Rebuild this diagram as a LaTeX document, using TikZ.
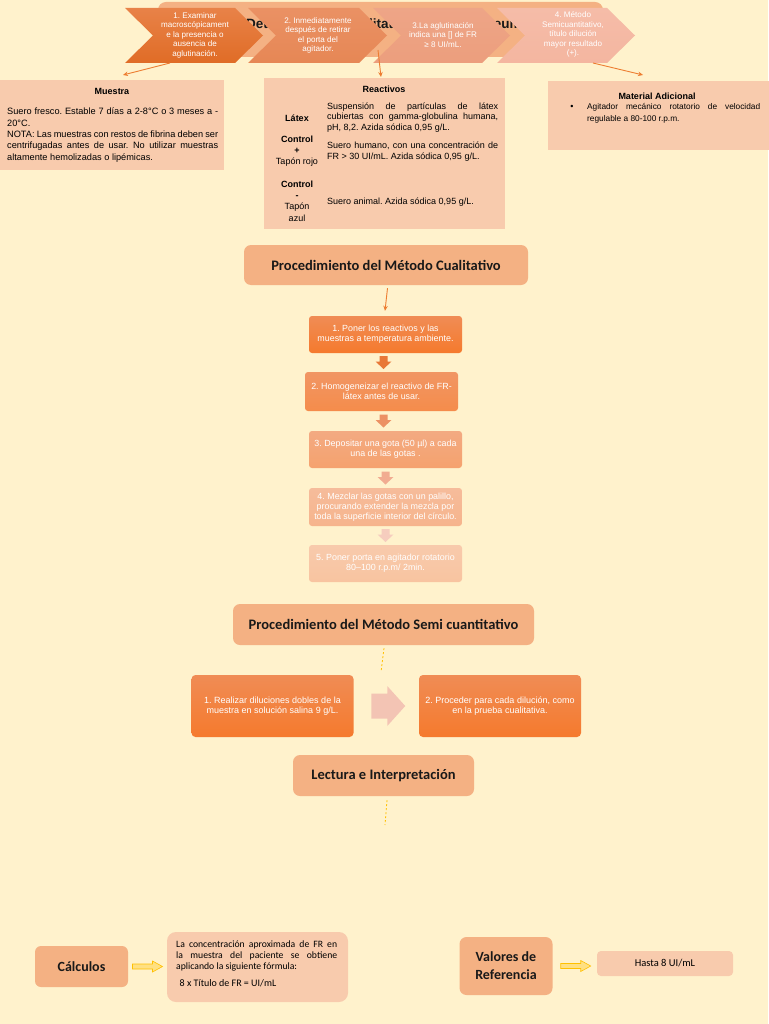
\documentclass[tikz,border=0pt]{standalone}
\usepackage{fontspec}
\setmainfont{Liberation Sans}
\newfontfamily\calib{Carlito}
\usetikzlibrary{arrows.meta,calc}
\definecolor{bgc}{RGB}{255,242,204}
\definecolor{headc}{RGB}{244,177,131}
\definecolor{lightc}{RGB}{248,203,173}
\definecolor{orc}{RGB}{237,125,49}
\definecolor{yelc}{RGB}{255,192,0}
\definecolor{yelf}{RGB}{255,224,130}
\definecolor{darkt}{RGB}{25,25,25}
\definecolor{ch1t}{RGB}{232,130,72}\definecolor{ch1b}{RGB}{224,108,38}
\definecolor{ch2t}{RGB}{234,145,100}\definecolor{ch2b}{RGB}{230,135,85}
\definecolor{ch3t}{RGB}{238,165,135}\definecolor{ch3b}{RGB}{236,158,125}
\definecolor{ch4t}{RGB}{245,188,168}\definecolor{ch4b}{RGB}{244,182,160}
\definecolor{s1t}{RGB}{240,140,85}\definecolor{s1b}{RGB}{245,122,45}
\definecolor{s2t}{RGB}{241,150,100}\definecolor{s2b}{RGB}{245,140,75}
\definecolor{s3t}{RGB}{243,170,130}\definecolor{s3b}{RGB}{245,162,110}
\definecolor{s4t}{RGB}{246,188,155}\definecolor{s4b}{RGB}{246,180,140}
\definecolor{s5t}{RGB}{248,202,172}\definecolor{s5b}{RGB}{248,196,160}
\definecolor{a1c}{RGB}{232,120,55}
\definecolor{a2c}{RGB}{236,145,100}
\definecolor{a3c}{RGB}{241,172,145}
\definecolor{a4c}{RGB}{246,205,190}
\definecolor{pinkc}{RGB}{243,196,180}
\newcommand\dblock[3]{\fill[#3] ($(#1.south)!0.5!(#2.north)$) +(-4,-6.5) -- +(4,-6.5) -- +(4,-1) -- +(8,-1) -- +(0,6.5) -- +(-8,-1) -- +(-4,-1) -- cycle;}
\begin{document}
\frenchspacing
\begin{tikzpicture}[x=1pt,y=-1pt,
  body/.style={font=\fontsize{9}{10.5}\selectfont, inner sep=0pt, text=black},
  bodyb/.style={body, font=\fontsize{9}{10.5}\selectfont\bfseries},
  chevtext/.style={font=\fontsize{8.1}{9.5}\selectfont, text=white, align=center, inner sep=0pt},
  lightbox/.style={fill=lightc, inner sep=0pt},
  headbox/.style={fill=headc, rounded corners=7pt, inner sep=0pt, text=darkt,
    font=\calib\fontsize{14.5}{17}\selectfont\bfseries},
  stepbox/.style={rounded corners=3pt, inner sep=0pt, text=white, align=center,
    font=\fontsize{8.9}{9.8}\selectfont, minimum width=153pt, minimum height=37pt},
  semibox/.style={rounded corners=4pt, inner sep=0pt, text=white, align=center,
    font=\fontsize{9}{10}\selectfont, minimum width=162pt, minimum height=62pt,
    top color=s1t, bottom color=s1b},
  conn/.style={draw=orc, line width=0.9pt, -{Stealth[length=5pt,width=4.5pt]}},
  dotc/.style={draw=yelc, line width=0.8pt, dash pattern=on 2pt off 2pt},
  yarrow/.style={fill=yelf, draw=yelc, line width=0.6pt},
]
\fill[bgc] (0,0) rectangle (768,1024);
\useasboundingbox (0,0) rectangle (768,1024);

% ---------- title banner behind the chevrons
\node[fill=headc, rounded corners=8pt, minimum width=445pt, minimum height=55pt, inner sep=0pt] (titlebox) at (380.5,29.5) {};
\node[anchor=base west, inner sep=0pt, font=\fontsize{13.5}{16}\selectfont\bfseries, text=darkt] (title) at (246,29) {Determinación Cualitativa del Factor Reumatoide};

% ---------- chevrons
\path[top color=ch1t, bottom color=ch1b] (125,8) -- (235,8) -- (263,35.5) -- (235,63) -- (125,63) -- (153,35.5) -- cycle;
\path[top color=ch2t, bottom color=ch2b] (248,8) -- (359,8) -- (387,35.5) -- (359,63) -- (248,63) -- (276,35.5) -- cycle;
\path[top color=ch3t, bottom color=ch3b] (373,8) -- (482,8) -- (510,35.5) -- (482,63) -- (373,63) -- (401,35.5) -- cycle;
\path[top color=ch4t, bottom color=ch4b] (497,8) -- (607,8) -- (635,35.5) -- (607,63) -- (497,63) -- (525,35.5) -- cycle;
\node[chevtext] (c1) at (195,35) {1. Examinar\\macroscópicament\\e la presencia o\\ausencia de\\aglutinación.};
\node[chevtext] (c2) at (318,35.5) {2. Inmediatamente\\después de retirar\\el porta del\\agitador.};
\node[chevtext] (c3) at (443,35) {3.La aglutinación\\indica una [] de FR\\≥ 8 UI/mL.};
\node[chevtext] (c4) at (573,34.5) {4. Método\\Semicuantitativo,\\título dilución\\mayor resultado\\(+).};

% ---------- Muestra
\node[lightbox, minimum width=224pt, minimum height=90pt] (muestra) at (112,125) {};
\node[bodyb] (mtit) at (112,91.5) {Muestra};
\node[body, align=left, anchor=west, font=\fontsize{9.2}{11.4}\selectfont] (mtxt) at (7,135)
 {\makebox[211pt][s]{Suero fresco. Estable 7 días a 2-8°C o 3 meses a -}\\
  20°C.\\
  \makebox[211pt][s]{NOTA: Las muestras con restos de fibrina deben ser}\\
  \makebox[211pt][s]{centrifugadas antes de usar. No utilizar muestras}\\
  altamente hemolizadas o lipémicas.};

% ---------- Reactivos
\node[lightbox, minimum width=241pt, minimum height=151pt] (reac) at (384,153.5) {};
\node[bodyb] (rtit) at (384,89) {Reactivos};
\node[bodyb] (rl1) at (297,118) {Látex};
\node[body, align=center, font=\fontsize{9}{11}\selectfont] (rl2) at (297,151) {\textbf{Control}\\\textbf{+}\\Tapón rojo};
\node[body, align=center, font=\fontsize{9}{11.2}\selectfont] (rl3) at (297,201) {\textbf{Control}\\\textbf{-}\\Tapón\\azul};
\node[body, align=left, anchor=west, font=\fontsize{9}{10.6}\selectfont] (rr1) at (327,117.5)
 {\makebox[171pt][s]{Suspensión de partículas de látex}\\
  \makebox[171pt][s]{cubiertas con gamma-globulina humana,}\\
  pH, 8,2. Azida sódica 0,95 g/L.};
\node[body, align=left, anchor=west, font=\fontsize{9}{10.8}\selectfont] (rr2) at (327,151.5)
 {\makebox[171pt][s]{Suero humano, con una concentración de}\\
  FR > 30 UI/mL. Azida sódica 0,95 g/L.};
\node[body, anchor=west] (rr3) at (327,202) {Suero animal. Azida sódica 0,95 g/L.};

% ---------- Material adicional
\node[lightbox, minimum width=221pt, minimum height=69pt] (mat) at (658.5,115.5) {};
\node[bodyb] (mattit) at (657,96) {Material Adicional};
\node[body] (bul) at (572,107.5) {•};
\node[body, align=left, anchor=west, font=\fontsize{8.3}{12}\selectfont] (mattxt) at (587,113.5)
 {\makebox[173pt][s]{Agitador mecánico rotatorio de velocidad}\\
  regulable a 80-100 r.p.m.};

% ---------- connectors from chevrons
\coordinate (c1b) at (170,63);
\coordinate (m1) at (123,75);
\coordinate (c2b) at (378,50);
\coordinate (r1) at (381,77);
\coordinate (c4b) at (593,63);
\coordinate (a1) at (643,75);
\draw[conn] (c1b) -- (m1);
\draw[conn] (c2b) -- (r1);
\draw[conn] (c4b) -- (a1);

% ---------- Procedimiento cualitativo
\node[headbox, minimum width=284pt, minimum height=40pt] (proc) at (386,265) {Procedimiento del Método Cualitativo};
\node[stepbox, top color=s1t, bottom color=s1b] (s1) at (385.5,334.5) {1. Poner los reactivos y las\\muestras a temperatura ambiente.};
\node[stepbox, top color=s2t, bottom color=s2b, minimum width=153pt, minimum height=39pt] (s2) at (381.5,391.5) {2. Homogeneizar el reactivo de FR-\\látex antes de usar.};
\node[stepbox, top color=s3t, bottom color=s3b] (s3) at (385.5,449.5) {3. Depositar una gota (50 µl) a cada\\una de las gotas .};
\node[stepbox, top color=s4t, bottom color=s4b, minimum height=38pt] (s4) at (385.5,507) {4. Mezclar las gotas con un palillo,\\procurando extender la mezcla por\\toda la superficie interior del círculo.};
\node[stepbox, top color=s5t, bottom color=s5b] (s5) at (385.5,563.5) {5. Poner porta en agitador rotatorio\\80–100 r.p.m/ 2min.};
\draw[conn] ($(proc.south)+(1.5,3)$) -- ($(s1.north)+(-0.5,-5)$);
\dblock{s1}{s2}{a1c}
\dblock{s2}{s3}{a2c}
\dblock{s3}{s4}{a3c}
\dblock{s4}{s5}{a4c}

% ---------- Procedimiento semicuantitativo
\node[headbox, minimum width=301pt, minimum height=41pt] (semi) at (383.5,624.5) {Procedimiento del Método Semi cuantitativo};
\coordinate (semid) at (381,672);
\draw[dotc] ($(semi.south)+(0.5,3)$) -- (semid);
\node[semibox] (b1) at (272.5,706) {1. Realizar diluciones dobles de la\\muestra en solución salina 9 g/L.};
\node[semibox] (b2) at (500,706) {2. Proceder para cada dilución, como\\en la prueba cualitativa.};
\fill[pinkc] ($(b1.east)!0.5!(b2.west)$) +(-15,-12.5) -- +(1,-12.5) -- +(1,-20) -- +(19,0) -- +(1,20) -- +(1,12.5) -- +(-15,12.5) -- cycle;

% ---------- Lectura
\node[headbox, minimum width=181pt, minimum height=41pt] (lect) at (383.5,775.5) {Lectura e Interpretación};
\coordinate (lectd) at (385,825);
\draw[dotc] ($(lect.south)+(3.5,4)$) -- (lectd);

% ---------- Cálculos
\node[headbox, rounded corners=6pt, minimum width=93pt, minimum height=41pt, font=\calib\fontsize{14}{16}\selectfont\bfseries] (calc) at (81.5,966.5) {Cálculos};
\node[fill=lightc, rounded corners=9pt, minimum width=181pt, minimum height=70pt, inner sep=0pt] (ctxt) at (257.5,967) {};
\node[inner sep=0pt, align=left, anchor=west, text=black, font=\calib\fontsize{9.7}{11}\selectfont] (ctxt1) at (176,955.5)
 {\makebox[161pt][s]{La concentración aproximada de FR en}\\
  \makebox[161pt][s]{la muestra del paciente se obtiene}\\
  aplicando la siguiente fórmula:};
\node[inner sep=0pt, anchor=west, text=black, font=\calib\fontsize{10}{11}\selectfont] (ctxt2) at (179.5,983) {8 x Título de FR = UI/mL};
\draw[yarrow] ($(calc.east)!0.5!(ctxt.west |- calc.east)$) +(-15,-2.5) -- +(5,-2.5) -- +(5,-5.5) -- +(15,0) -- +(5,5.5) -- +(5,2.5) -- +(-15,2.5) -- cycle;

% ---------- Valores de referencia
\node[headbox, rounded corners=7pt, minimum width=93pt, minimum height=58pt, align=center, font=\calib\fontsize{14}{18}\selectfont\bfseries] (val) at (506,966) {Valores de\\Referencia};
\node[fill=lightc, rounded corners=4pt, minimum width=136pt, minimum height=25pt, inner sep=0pt, font=\calib\fontsize{10.5}{12}\selectfont] (hasta) at (665,963.5) {Hasta 8 UI/mL};
\draw[yarrow] ($(val.east)!0.5!(hasta.west |- val.east)$) +(-14,-2.5) -- +(6,-2.5) -- +(6,-5.5) -- +(16,0) -- +(6,5.5) -- +(6,2.5) -- +(-14,2.5) -- cycle;
\end{tikzpicture}
\end{document}
